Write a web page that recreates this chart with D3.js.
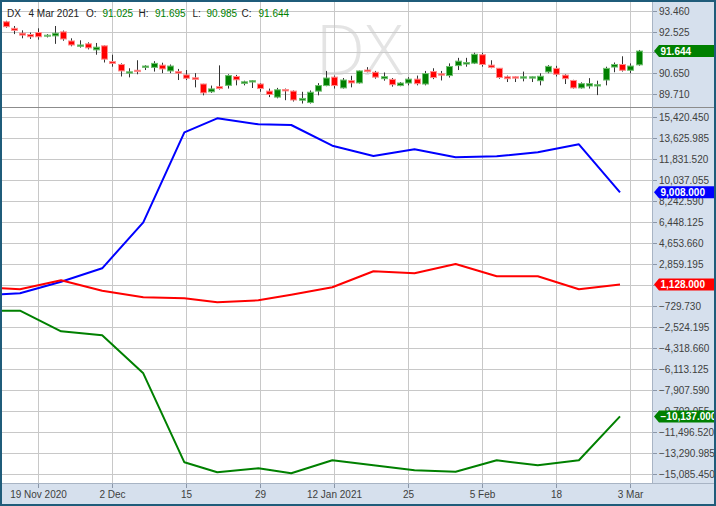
<!DOCTYPE html>
<html><head><meta charset="utf-8">
<script src="https://cdn.jsdelivr.net/npm/d3@7"></script>
<style>body{margin:0;background:#fff}svg{display:block}</style>
</head><body><svg id="c" width="716" height="506"></svg>
<script>
const symbol = "DX";
const dates = ["2020-11-13","2020-11-16","2020-11-17","2020-11-18","2020-11-19","2020-11-20","2020-11-23","2020-11-24","2020-11-25","2020-11-26","2020-11-27","2020-11-30",
"2020-12-01","2020-12-02","2020-12-03","2020-12-04","2020-12-07","2020-12-08","2020-12-09","2020-12-10","2020-12-11","2020-12-14","2020-12-15","2020-12-16","2020-12-17","2020-12-18","2020-12-21","2020-12-22","2020-12-23","2020-12-24","2020-12-28","2020-12-29","2020-12-30","2020-12-31",
"2021-01-04","2021-01-05","2021-01-06","2021-01-07","2021-01-08","2021-01-11","2021-01-12","2021-01-13","2021-01-14","2021-01-15","2021-01-18","2021-01-19","2021-01-20","2021-01-21","2021-01-22","2021-01-25","2021-01-26","2021-01-27","2021-01-28","2021-01-29",
"2021-02-01","2021-02-02","2021-02-03","2021-02-04","2021-02-05","2021-02-08","2021-02-09","2021-02-10","2021-02-11","2021-02-12","2021-02-15","2021-02-16","2021-02-17","2021-02-18","2021-02-19","2021-02-22","2021-02-23","2021-02-24","2021-02-25","2021-02-26",
"2021-03-01","2021-03-02","2021-03-03","2021-03-04"];
const opens  = [92.965,92.67,92.45,92.39,92.48,92.32,92.33,92.51,92.10,91.86,91.97,91.70,91.88,91.17,91.04,90.65,90.78,90.91,90.91,91.01,90.75,90.72,90.57,90.44,90.16,89.81,90.04,90.10,90.50,90.19,90.25,90.16,89.84,89.57,89.91,89.84,89.43,89.325,89.84,90.09,90.47,89.985,90.31,90.21,90.79,90.69,90.40,90.37,90.09,90.205,90.38,90.16,90.72,90.62,90.54,90.99,91.06,91.10,91.48,91.01,90.87,90.485,90.485,90.425,90.425,90.31,90.705,90.865,90.56,90.32,89.985,90.07,90.07,90.34,90.925,91.04,90.78,91.025];
const highs  = [93.01,92.775,92.58,92.48,92.67,92.41,92.775,92.57,92.22,92.13,92.04,92.01,91.90,91.48,91.09,90.87,91.23,91.01,91.19,91.12,91.04,90.84,90.79,90.65,90.17,90.09,91.00,90.60,90.57,90.31,90.34,90.20,89.955,89.985,89.955,89.87,89.81,89.87,90.20,90.75,90.54,90.43,90.53,90.77,90.92,90.75,90.68,90.43,90.25,90.47,90.54,90.75,90.87,90.75,91.09,91.34,91.34,91.57,91.57,91.23,90.88,90.54,90.50,90.72,90.50,90.645,91.01,90.98,90.60,90.35,90.235,90.425,90.31,90.94,91.13,91.41,91.09,91.695];
const lows   = [92.70,92.41,92.22,92.19,92.16,92.26,91.97,92.11,91.86,91.80,91.72,91.48,91.13,90.94,90.50,90.46,90.60,90.79,90.72,90.65,90.65,90.34,90.34,90.01,89.65,89.76,89.91,89.955,90.10,90.10,89.98,89.81,89.57,89.515,89.43,89.37,89.28,89.28,89.65,90.06,89.955,89.955,90.01,90.18,90.69,90.40,90.31,90.04,90.06,90.10,90.10,90.10,90.38,90.32,90.45,90.79,90.94,91.06,90.94,90.87,90.40,90.25,90.25,90.28,90.25,90.10,90.645,90.50,90.16,89.955,89.955,89.955,89.66,90.10,90.69,90.72,90.645,90.985];
const closes = [92.745,92.58,92.365,92.29,92.29,92.36,92.45,92.19,91.92,91.92,91.79,91.82,91.28,91.09,90.75,90.71,90.72,90.97,91.09,90.84,90.97,90.65,90.42,90.37,89.76,89.94,89.955,90.54,90.35,90.26,90.31,89.955,89.69,89.90,89.85,89.44,89.51,89.79,90.09,90.43,90.09,90.34,90.21,90.75,90.72,90.47,90.49,90.13,90.205,90.38,90.175,90.63,90.45,90.56,90.95,91.19,91.13,91.50,91.04,90.91,90.455,90.40,90.425,90.485,90.485,90.51,90.955,90.60,90.40,89.985,90.175,90.175,90.13,90.865,91.04,90.78,90.97,91.644];
const priceTicks = [93.460, 92.525, 91.590, 90.650, 89.710];

const cotDates = ["2020-11-10","2020-11-17","2020-11-24","2020-12-01","2020-12-08","2020-12-15","2020-12-21","2020-12-29","2021-01-05","2021-01-12","2021-01-19","2021-01-26","2021-02-02","2021-02-09","2021-02-16","2021-02-23","2021-03-02"];
const cotBlue  = [180,381,1372,2517,6448,14139,15335,14822,14762,12993,12113,12686,12002,12088,12430,13113,9008];
const cotRed   = [928,723,1492,603,39,-46,-388,-217,262,894,2261,2090,2885,1834,1834,723,1128];
const cotGreen = [-1108,-1106,-2866,-3208,-6455,-14060,-14915,-14573,-15000,-13889,-14308,-14744,-14864,-13889,-14317,-13889,-10137];
const cotTicks = [15420.450,13625.985,11831.520,10037.055,8242.590,6448.125,4653.660,2859.195,1064.730,-729.730,-2524.195,-4318.660,-6113.125,-7907.590,-9702.055,-11496.520,-13290.985,-15085.450];

const xTickDates  = ["2020-11-19","2020-12-02","2020-12-15","2020-12-29","2021-01-12","2021-01-25","2021-02-05","2021-02-18","2021-03-03"];
const xTickLabels = ["19 Nov 2020","2 Dec","15","29","12 Jan 2021","25","5 Feb","18","3 Mar"];
const holidays = ["2020-12-25","2021-01-01"];

const header = {date:"4 Mar 2021", o:"91.025", h:"91.695", l:"90.985", c:"91.644"};

// ---------- layout ----------
const W=716,H=506, L=2, R=652, T=2, MID=107, B=483;
const FONT="Liberation Sans, Arial, sans-serif";
const svg=d3.select("#c");

function iso(d){return d.toISOString().slice(0,10);}
function tIndex(s){
  const k=dates.indexOf(s); if(k>=0) return k;
  let d=new Date(s+"T00:00:00Z"), base=new Date(dates[0]+"T00:00:00Z"), n=0;
  while(d<base){const wd=d.getUTCDay(); if(wd!==0&&wd!==6&&!holidays.includes(iso(d))) n--; d.setUTCDate(d.getUTCDate()+1);}
  return n;
}

const x = d3.scaleLinear().domain([0, dates.length-1]).range([5.6, 638.5]);
const yP = d3.scaleLinear().domain([89.71, 93.46]).range([94, 10.8]);
const yC = d3.scaleLinear().domain([-15085.45, 15420.45]).range([474.3, 117.3]);

const defs=svg.append("defs");
defs.append("clipPath").attr("id","cpTop").append("rect").attr("x",L).attr("y",T).attr("width",R-L).attr("height",MID-T);
defs.append("clipPath").attr("id","cpBot").append("rect").attr("x",L).attr("y",MID).attr("width",R-L).attr("height",B-MID);

svg.append("rect").attr("width",W).attr("height",H).attr("fill","#fff");
svg.append("rect").attr("x",R).attr("y",T).attr("width",W-R).attr("height",H-T).attr("fill","#d6e0ed");
svg.append("rect").attr("x",0).attr("y",B).attr("width",W).attr("height",H-B).attr("fill","#d6e0ed");

// watermark
svg.append("text").attr("x",359).attr("y",75).attr("text-anchor","middle")
  .attr("font-family","Open Sans, Liberation Sans, sans-serif").attr("font-weight",300)
  .attr("font-size",70).attr("fill","#e4e4e4").text(symbol);

const grid=svg.append("g").attr("stroke","#c8c8c8").attr("stroke-width",1).attr("shape-rendering","crispEdges");
xTickDates.forEach(d=>{
  const xx=Math.round(x(tIndex(d)))+0.5;
  grid.append("line").attr("x1",xx).attr("x2",xx).attr("y1",T).attr("y2",B);
});
priceTicks.forEach(v=>{const yy=Math.round(yP(v))+0.5; grid.append("line").attr("x1",L).attr("x2",R).attr("y1",yy).attr("y2",yy);});
cotTicks.forEach(v=>{const yy=Math.round(yC(v))+0.5; grid.append("line").attr("x1",L).attr("x2",R).attr("y1",yy).attr("y2",yy);});

// ---------- candles ----------
const gTop=svg.append("g").attr("clip-path","url(#cpTop)");
dates.forEach((d,i)=>{
  const cx=Math.round(x(i))+0.5;
  const up=closes[i]>=opens[i];
  gTop.append("line").attr("x1",cx).attr("x2",cx).attr("y1",yP(highs[i])).attr("y2",yP(lows[i]))
    .attr("stroke","#333").attr("stroke-width",1);
  const yt=yP(Math.max(opens[i],closes[i])), yb=yP(Math.min(opens[i],closes[i]));
  gTop.append("rect").attr("x",cx-3).attr("y",yt).attr("width",6).attr("height",Math.max(1,yb-yt))
    .attr("fill",up?"#008000":"#ff0000").attr("stroke",up?"#6fbf6f":"#ff8c8c").attr("stroke-width",1);
});

// ---------- COT lines ----------
const gBot=svg.append("g").attr("clip-path","url(#cpBot)");
const cotX=cotDates.map(d=>x(tIndex(d)-0.25));
const line=d3.line().x((d,i)=>cotX[i]).y(d=>yC(d));
[[cotBlue,"#0000ff"],[cotRed,"#ff0000"],[cotGreen,"#008000"]].forEach(([s,c])=>{
  gBot.append("path").attr("d",line(s)).attr("fill","none").attr("stroke",c).attr("stroke-width",2).attr("stroke-linejoin","round");
});

// separators
const sep=svg.append("g").attr("shape-rendering","crispEdges");
sep.append("line").attr("x1",L).attr("x2",W).attr("y1",MID+0.5).attr("y2",MID+0.5).attr("stroke","#8c8c8c");
sep.append("line").attr("x1",R+0.5).attr("x2",R+0.5).attr("y1",T).attr("y2",B).attr("stroke","#a8b4c4");
sep.append("line").attr("x1",0).attr("x2",W).attr("y1",B+0.5).attr("y2",B+0.5).attr("stroke","#a8b4c4");

// ---------- tags (positions) ----------
const tags=[
  [yP(closes[closes.length-1]), d3.format(".3f")(closes[closes.length-1]), "#008000"],
  [yC(cotBlue[cotBlue.length-1]), d3.format(",.3f")(cotBlue[cotBlue.length-1]), "#0000ff"],
  [yC(cotRed[cotRed.length-1]), d3.format(",.3f")(cotRed[cotRed.length-1]), "#ff0000"],
  [yC(cotGreen[cotGreen.length-1]), d3.format(",.3f")(cotGreen[cotGreen.length-1]), "#008000"]
];

// ---------- right axes ----------
const ax=svg.append("g").attr("font-family",FONT).attr("font-size",10).attr("fill","#404040");
function axisLabels(ticks, sc, fmt){
  ticks.forEach(v=>{
    const yy=Math.round(sc(v))+0.5;
    ax.append("line").attr("x1",R+1).attr("x2",R+5).attr("y1",yy).attr("y2",yy).attr("stroke","#8a96a8").attr("shape-rendering","crispEdges");
    // labels completely covered by a value tag are not visible in the original
    if(tags.some(t=>Math.abs(t[0]-yy)<3)) return;
    ax.append("text").attr("x",659).attr("y",yy).attr("dy","0.35em").text(fmt(v));
  });
}
axisLabels(priceTicks, yP, d3.format(".3f"));
axisLabels(cotTicks, yC, d3.format(",.3f"));

xTickDates.forEach((d,i)=>{
  const xx=Math.round(x(tIndex(d)))+0.5;
  ax.append("line").attr("x1",xx).attr("x2",xx).attr("y1",B+1).attr("y2",B+5).attr("stroke","#8a96a8").attr("shape-rendering","crispEdges");
  ax.append("text").attr("x",xx).attr("y",498).attr("text-anchor","middle").text(xTickLabels[i]);
});

tags.forEach(([yy,txt,col])=>{
  const h=6;
  svg.append("path").attr("d",`M654,${yy} L659,${yy-h} L714,${yy-h} L714,${yy+h} L659,${yy+h} Z`).attr("fill",col);
  svg.append("text").attr("x",660.5).attr("y",yy).attr("dy","0.35em").attr("font-family",FONT).attr("font-size",10)
    .attr("font-weight","bold").attr("fill","#fff").text(txt);
});

// ---------- header ----------
const hd=svg.append("text").attr("y",17).attr("font-family",FONT).attr("font-size",10).attr("fill","#222");
[[7,symbol,"#222"],[28.5,header.date,"#222"],[86,"O:","#222"],[102.5,header.o,"#008000"],[138.5,"H:","#222"],[155,header.h,"#008000"],
 [192.5,"L:","#222"],[206.5,header.l,"#008000"],[241.5,"C:","#222"],[258.5,header.c,"#008000"]].forEach(([xx,t,c])=>{
  hd.append("tspan").attr("x",xx).attr("fill",c).text(t);
});

// frame
svg.append("rect").attr("x",1).attr("y",1).attr("width",W-2).attr("height",H-2).attr("fill","none").attr("stroke","#1f5c7a").attr("stroke-width",2);
</script></body></html>
